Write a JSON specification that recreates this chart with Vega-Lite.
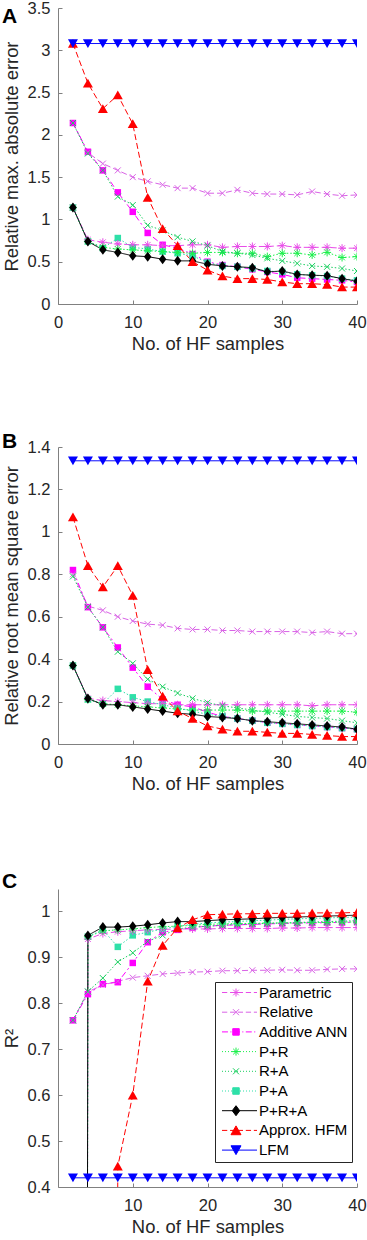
{
"$schema": "https://vega.github.io/schema/vega-lite/v6.json",
"padding": {"left": 2, "top": 0, "right": 0, "bottom": 0},
"spacing": 78,
"config": {
 "view": {"stroke": null},
 "font": "Liberation Sans",
 "axis": {"labelFont": "Liberation Sans", "titleFont": "Liberation Sans", "labelFontSize": 16.5, "titleFontSize": 18.4, "titleFontWeight": "normal", "labelColor": "#262626", "titleColor": "#262626", "domainColor": "#808080", "tickColor": "#808080", "tickSize": -4, "grid": false, "labelFlush": false, "labelOverlap": false},
 "axisX": {"labelPadding": 14, "titlePadding": 4},
 "axisY": {"labelPadding": 12, "titlePadding": 6},
 "title": {"font": "Liberation Sans", "fontSize": 21, "fontWeight": "bold", "anchor": "start", "frame": "bounds", "color": "#000000"}
},
"resolve": {"scale": {"color": "independent", "shape": "independent", "strokeDash": "independent", "stroke": "independent"}},
"data": {"values": [
{"p":"A","s":"Parametric","x":2,"y":1.14},{"p":"A","s":"Parametric","x":4,"y":0.76},{"p":"A","s":"Parametric","x":6,"y":0.73},{"p":"A","s":"Parametric","x":8,"y":0.71},{"p":"A","s":"Parametric","x":10,"y":0.70},{"p":"A","s":"Parametric","x":12,"y":0.70},{"p":"A","s":"Parametric","x":14,"y":0.69},{"p":"A","s":"Parametric","x":16,"y":0.69},{"p":"A","s":"Parametric","x":18,"y":0.70},{"p":"A","s":"Parametric","x":20,"y":0.70},{"p":"A","s":"Parametric","x":22,"y":0.67},{"p":"A","s":"Parametric","x":24,"y":0.68},{"p":"A","s":"Parametric","x":26,"y":0.68},{"p":"A","s":"Parametric","x":28,"y":0.68},{"p":"A","s":"Parametric","x":30,"y":0.69},{"p":"A","s":"Parametric","x":32,"y":0.67},{"p":"A","s":"Parametric","x":34,"y":0.67},{"p":"A","s":"Parametric","x":36,"y":0.67},{"p":"A","s":"Parametric","x":38,"y":0.66},{"p":"A","s":"Parametric","x":40,"y":0.66},
{"p":"A","s":"Relative","x":2,"y":2.14},{"p":"A","s":"Relative","x":4,"y":1.79},{"p":"A","s":"Relative","x":6,"y":1.66},{"p":"A","s":"Relative","x":8,"y":1.58},{"p":"A","s":"Relative","x":10,"y":1.50},{"p":"A","s":"Relative","x":12,"y":1.45},{"p":"A","s":"Relative","x":14,"y":1.41},{"p":"A","s":"Relative","x":16,"y":1.37},{"p":"A","s":"Relative","x":18,"y":1.37},{"p":"A","s":"Relative","x":20,"y":1.31},{"p":"A","s":"Relative","x":22,"y":1.31},{"p":"A","s":"Relative","x":24,"y":1.35},{"p":"A","s":"Relative","x":26,"y":1.31},{"p":"A","s":"Relative","x":28,"y":1.30},{"p":"A","s":"Relative","x":30,"y":1.30},{"p":"A","s":"Relative","x":32,"y":1.29},{"p":"A","s":"Relative","x":34,"y":1.33},{"p":"A","s":"Relative","x":36,"y":1.30},{"p":"A","s":"Relative","x":38,"y":1.28},{"p":"A","s":"Relative","x":40,"y":1.29},
{"p":"A","s":"Additive ANN","x":2,"y":2.14},{"p":"A","s":"Additive ANN","x":4,"y":1.80},{"p":"A","s":"Additive ANN","x":6,"y":1.58},{"p":"A","s":"Additive ANN","x":8,"y":1.32},{"p":"A","s":"Additive ANN","x":10,"y":1.09},{"p":"A","s":"Additive ANN","x":12,"y":0.84},{"p":"A","s":"Additive ANN","x":14,"y":0.70},{"p":"A","s":"Additive ANN","x":16,"y":0.66},{"p":"A","s":"Additive ANN","x":18,"y":0.59},{"p":"A","s":"Additive ANN","x":20,"y":0.50},{"p":"A","s":"Additive ANN","x":22,"y":0.46},{"p":"A","s":"Additive ANN","x":24,"y":0.44},{"p":"A","s":"Additive ANN","x":26,"y":0.41},{"p":"A","s":"Additive ANN","x":28,"y":0.38},{"p":"A","s":"Additive ANN","x":30,"y":0.35},{"p":"A","s":"Additive ANN","x":32,"y":0.31},{"p":"A","s":"Additive ANN","x":34,"y":0.30},{"p":"A","s":"Additive ANN","x":36,"y":0.29},{"p":"A","s":"Additive ANN","x":38,"y":0.28},{"p":"A","s":"Additive ANN","x":40,"y":0.26},
{"p":"A","s":"P+R","x":2,"y":1.14},{"p":"A","s":"P+R","x":4,"y":0.74},{"p":"A","s":"P+R","x":6,"y":0.67},{"p":"A","s":"P+R","x":8,"y":0.65},{"p":"A","s":"P+R","x":10,"y":0.64},{"p":"A","s":"P+R","x":12,"y":0.63},{"p":"A","s":"P+R","x":14,"y":0.62},{"p":"A","s":"P+R","x":16,"y":0.61},{"p":"A","s":"P+R","x":18,"y":0.60},{"p":"A","s":"P+R","x":20,"y":0.61},{"p":"A","s":"P+R","x":22,"y":0.61},{"p":"A","s":"P+R","x":24,"y":0.60},{"p":"A","s":"P+R","x":26,"y":0.60},{"p":"A","s":"P+R","x":28,"y":0.56},{"p":"A","s":"P+R","x":30,"y":0.60},{"p":"A","s":"P+R","x":32,"y":0.60},{"p":"A","s":"P+R","x":34,"y":0.58},{"p":"A","s":"P+R","x":36,"y":0.61},{"p":"A","s":"P+R","x":38,"y":0.55},{"p":"A","s":"P+R","x":40,"y":0.56},
{"p":"A","s":"R+A","x":2,"y":2.14},{"p":"A","s":"R+A","x":4,"y":1.78},{"p":"A","s":"R+A","x":6,"y":1.58},{"p":"A","s":"R+A","x":8,"y":1.27},{"p":"A","s":"R+A","x":10,"y":1.17},{"p":"A","s":"R+A","x":12,"y":0.93},{"p":"A","s":"R+A","x":14,"y":0.87},{"p":"A","s":"R+A","x":16,"y":0.79},{"p":"A","s":"R+A","x":18,"y":0.74},{"p":"A","s":"R+A","x":20,"y":0.69},{"p":"A","s":"R+A","x":22,"y":0.62},{"p":"A","s":"R+A","x":24,"y":0.60},{"p":"A","s":"R+A","x":26,"y":0.58},{"p":"A","s":"R+A","x":28,"y":0.54},{"p":"A","s":"R+A","x":30,"y":0.51},{"p":"A","s":"R+A","x":32,"y":0.48},{"p":"A","s":"R+A","x":34,"y":0.45},{"p":"A","s":"R+A","x":36,"y":0.44},{"p":"A","s":"R+A","x":38,"y":0.42},{"p":"A","s":"R+A","x":40,"y":0.39},
{"p":"A","s":"P+A","x":2,"y":1.14},{"p":"A","s":"P+A","x":4,"y":0.74},{"p":"A","s":"P+A","x":6,"y":0.66},{"p":"A","s":"P+A","x":8,"y":0.78},{"p":"A","s":"P+A","x":10,"y":0.67},{"p":"A","s":"P+A","x":12,"y":0.65},{"p":"A","s":"P+A","x":14,"y":0.62},{"p":"A","s":"P+A","x":16,"y":0.60},{"p":"A","s":"P+A","x":18,"y":0.57},{"p":"A","s":"P+A","x":20,"y":0.49},{"p":"A","s":"P+A","x":22,"y":0.45},{"p":"A","s":"P+A","x":24,"y":0.44},{"p":"A","s":"P+A","x":26,"y":0.42},{"p":"A","s":"P+A","x":28,"y":0.39},{"p":"A","s":"P+A","x":30,"y":0.38},{"p":"A","s":"P+A","x":32,"y":0.35},{"p":"A","s":"P+A","x":34,"y":0.34},{"p":"A","s":"P+A","x":36,"y":0.33},{"p":"A","s":"P+A","x":38,"y":0.30},{"p":"A","s":"P+A","x":40,"y":0.28},
{"p":"A","s":"P+R+A","x":2,"y":1.14},{"p":"A","s":"P+R+A","x":4,"y":0.74},{"p":"A","s":"P+R+A","x":6,"y":0.64},{"p":"A","s":"P+R+A","x":8,"y":0.61},{"p":"A","s":"P+R+A","x":10,"y":0.57},{"p":"A","s":"P+R+A","x":12,"y":0.56},{"p":"A","s":"P+R+A","x":14,"y":0.53},{"p":"A","s":"P+R+A","x":16,"y":0.51},{"p":"A","s":"P+R+A","x":18,"y":0.51},{"p":"A","s":"P+R+A","x":20,"y":0.47},{"p":"A","s":"P+R+A","x":22,"y":0.45},{"p":"A","s":"P+R+A","x":24,"y":0.44},{"p":"A","s":"P+R+A","x":26,"y":0.43},{"p":"A","s":"P+R+A","x":28,"y":0.38},{"p":"A","s":"P+R+A","x":30,"y":0.39},{"p":"A","s":"P+R+A","x":32,"y":0.35},{"p":"A","s":"P+R+A","x":34,"y":0.34},{"p":"A","s":"P+R+A","x":36,"y":0.335},{"p":"A","s":"P+R+A","x":38,"y":0.30},{"p":"A","s":"P+R+A","x":40,"y":0.27},
{"p":"A","s":"Approx. HFM","x":2,"y":3.08},{"p":"A","s":"Approx. HFM","x":4,"y":2.61},{"p":"A","s":"Approx. HFM","x":6,"y":2.31},{"p":"A","s":"Approx. HFM","x":8,"y":2.47},{"p":"A","s":"Approx. HFM","x":10,"y":2.13},{"p":"A","s":"Approx. HFM","x":12,"y":1.26},{"p":"A","s":"Approx. HFM","x":14,"y":0.89},{"p":"A","s":"Approx. HFM","x":16,"y":0.69},{"p":"A","s":"Approx. HFM","x":18,"y":0.50},{"p":"A","s":"Approx. HFM","x":20,"y":0.40},{"p":"A","s":"Approx. HFM","x":22,"y":0.33},{"p":"A","s":"Approx. HFM","x":24,"y":0.30},{"p":"A","s":"Approx. HFM","x":26,"y":0.30},{"p":"A","s":"Approx. HFM","x":28,"y":0.29},{"p":"A","s":"Approx. HFM","x":30,"y":0.26},{"p":"A","s":"Approx. HFM","x":32,"y":0.24},{"p":"A","s":"Approx. HFM","x":34,"y":0.24},{"p":"A","s":"Approx. HFM","x":36,"y":0.23},{"p":"A","s":"Approx. HFM","x":38,"y":0.20},{"p":"A","s":"Approx. HFM","x":40,"y":0.20},
{"p":"A","s":"LFM","x":2,"y":3.08},{"p":"A","s":"LFM","x":4,"y":3.08},{"p":"A","s":"LFM","x":6,"y":3.08},{"p":"A","s":"LFM","x":8,"y":3.08},{"p":"A","s":"LFM","x":10,"y":3.08},{"p":"A","s":"LFM","x":12,"y":3.08},{"p":"A","s":"LFM","x":14,"y":3.08},{"p":"A","s":"LFM","x":16,"y":3.08},{"p":"A","s":"LFM","x":18,"y":3.08},{"p":"A","s":"LFM","x":20,"y":3.08},{"p":"A","s":"LFM","x":22,"y":3.08},{"p":"A","s":"LFM","x":24,"y":3.08},{"p":"A","s":"LFM","x":26,"y":3.08},{"p":"A","s":"LFM","x":28,"y":3.08},{"p":"A","s":"LFM","x":30,"y":3.08},{"p":"A","s":"LFM","x":32,"y":3.08},{"p":"A","s":"LFM","x":34,"y":3.08},{"p":"A","s":"LFM","x":36,"y":3.08},{"p":"A","s":"LFM","x":38,"y":3.08},{"p":"A","s":"LFM","x":40,"y":3.08},
{"p":"B","s":"Parametric","x":2,"y":0.37},{"p":"B","s":"Parametric","x":4,"y":0.215},{"p":"B","s":"Parametric","x":6,"y":0.205},{"p":"B","s":"Parametric","x":8,"y":0.20},{"p":"B","s":"Parametric","x":10,"y":0.195},{"p":"B","s":"Parametric","x":12,"y":0.19},{"p":"B","s":"Parametric","x":14,"y":0.19},{"p":"B","s":"Parametric","x":16,"y":0.185},{"p":"B","s":"Parametric","x":18,"y":0.185},{"p":"B","s":"Parametric","x":20,"y":0.185},{"p":"B","s":"Parametric","x":22,"y":0.185},{"p":"B","s":"Parametric","x":24,"y":0.185},{"p":"B","s":"Parametric","x":26,"y":0.185},{"p":"B","s":"Parametric","x":28,"y":0.185},{"p":"B","s":"Parametric","x":30,"y":0.185},{"p":"B","s":"Parametric","x":32,"y":0.185},{"p":"B","s":"Parametric","x":34,"y":0.18},{"p":"B","s":"Parametric","x":36,"y":0.185},{"p":"B","s":"Parametric","x":38,"y":0.185},{"p":"B","s":"Parametric","x":40,"y":0.185},
{"p":"B","s":"Relative","x":2,"y":0.80},{"p":"B","s":"Relative","x":4,"y":0.65},{"p":"B","s":"Relative","x":6,"y":0.63},{"p":"B","s":"Relative","x":8,"y":0.60},{"p":"B","s":"Relative","x":10,"y":0.58},{"p":"B","s":"Relative","x":12,"y":0.565},{"p":"B","s":"Relative","x":14,"y":0.56},{"p":"B","s":"Relative","x":16,"y":0.545},{"p":"B","s":"Relative","x":18,"y":0.54},{"p":"B","s":"Relative","x":20,"y":0.54},{"p":"B","s":"Relative","x":22,"y":0.535},{"p":"B","s":"Relative","x":24,"y":0.535},{"p":"B","s":"Relative","x":26,"y":0.53},{"p":"B","s":"Relative","x":28,"y":0.53},{"p":"B","s":"Relative","x":30,"y":0.53},{"p":"B","s":"Relative","x":32,"y":0.53},{"p":"B","s":"Relative","x":34,"y":0.525},{"p":"B","s":"Relative","x":36,"y":0.53},{"p":"B","s":"Relative","x":38,"y":0.52},{"p":"B","s":"Relative","x":40,"y":0.52},
{"p":"B","s":"Additive ANN","x":2,"y":0.82},{"p":"B","s":"Additive ANN","x":4,"y":0.645},{"p":"B","s":"Additive ANN","x":6,"y":0.55},{"p":"B","s":"Additive ANN","x":8,"y":0.455},{"p":"B","s":"Additive ANN","x":10,"y":0.36},{"p":"B","s":"Additive ANN","x":12,"y":0.27},{"p":"B","s":"Additive ANN","x":14,"y":0.21},{"p":"B","s":"Additive ANN","x":16,"y":0.185},{"p":"B","s":"Additive ANN","x":18,"y":0.175},{"p":"B","s":"Additive ANN","x":20,"y":0.15},{"p":"B","s":"Additive ANN","x":22,"y":0.13},{"p":"B","s":"Additive ANN","x":24,"y":0.12},{"p":"B","s":"Additive ANN","x":26,"y":0.11},{"p":"B","s":"Additive ANN","x":28,"y":0.10},{"p":"B","s":"Additive ANN","x":30,"y":0.095},{"p":"B","s":"Additive ANN","x":32,"y":0.09},{"p":"B","s":"Additive ANN","x":34,"y":0.085},{"p":"B","s":"Additive ANN","x":36,"y":0.08},{"p":"B","s":"Additive ANN","x":38,"y":0.075},{"p":"B","s":"Additive ANN","x":40,"y":0.07},
{"p":"B","s":"P+R","x":2,"y":0.37},{"p":"B","s":"P+R","x":4,"y":0.21},{"p":"B","s":"P+R","x":6,"y":0.19},{"p":"B","s":"P+R","x":8,"y":0.185},{"p":"B","s":"P+R","x":10,"y":0.18},{"p":"B","s":"P+R","x":12,"y":0.175},{"p":"B","s":"P+R","x":14,"y":0.17},{"p":"B","s":"P+R","x":16,"y":0.165},{"p":"B","s":"P+R","x":18,"y":0.16},{"p":"B","s":"P+R","x":20,"y":0.16},{"p":"B","s":"P+R","x":22,"y":0.16},{"p":"B","s":"P+R","x":24,"y":0.16},{"p":"B","s":"P+R","x":26,"y":0.155},{"p":"B","s":"P+R","x":28,"y":0.155},{"p":"B","s":"P+R","x":30,"y":0.155},{"p":"B","s":"P+R","x":32,"y":0.155},{"p":"B","s":"P+R","x":34,"y":0.155},{"p":"B","s":"P+R","x":36,"y":0.155},{"p":"B","s":"P+R","x":38,"y":0.155},{"p":"B","s":"P+R","x":40,"y":0.15},
{"p":"B","s":"R+A","x":2,"y":0.79},{"p":"B","s":"R+A","x":4,"y":0.645},{"p":"B","s":"R+A","x":6,"y":0.55},{"p":"B","s":"R+A","x":8,"y":0.435},{"p":"B","s":"R+A","x":10,"y":0.38},{"p":"B","s":"R+A","x":12,"y":0.305},{"p":"B","s":"R+A","x":14,"y":0.27},{"p":"B","s":"R+A","x":16,"y":0.24},{"p":"B","s":"R+A","x":18,"y":0.215},{"p":"B","s":"R+A","x":20,"y":0.195},{"p":"B","s":"R+A","x":22,"y":0.18},{"p":"B","s":"R+A","x":24,"y":0.17},{"p":"B","s":"R+A","x":26,"y":0.16},{"p":"B","s":"R+A","x":28,"y":0.15},{"p":"B","s":"R+A","x":30,"y":0.14},{"p":"B","s":"R+A","x":32,"y":0.13},{"p":"B","s":"R+A","x":34,"y":0.125},{"p":"B","s":"R+A","x":36,"y":0.12},{"p":"B","s":"R+A","x":38,"y":0.11},{"p":"B","s":"R+A","x":40,"y":0.10},
{"p":"B","s":"P+A","x":2,"y":0.37},{"p":"B","s":"P+A","x":4,"y":0.21},{"p":"B","s":"P+A","x":6,"y":0.19},{"p":"B","s":"P+A","x":8,"y":0.26},{"p":"B","s":"P+A","x":10,"y":0.22},{"p":"B","s":"P+A","x":12,"y":0.20},{"p":"B","s":"P+A","x":14,"y":0.185},{"p":"B","s":"P+A","x":16,"y":0.17},{"p":"B","s":"P+A","x":18,"y":0.155},{"p":"B","s":"P+A","x":20,"y":0.14},{"p":"B","s":"P+A","x":22,"y":0.13},{"p":"B","s":"P+A","x":24,"y":0.12},{"p":"B","s":"P+A","x":26,"y":0.11},{"p":"B","s":"P+A","x":28,"y":0.10},{"p":"B","s":"P+A","x":30,"y":0.095},{"p":"B","s":"P+A","x":32,"y":0.09},{"p":"B","s":"P+A","x":34,"y":0.085},{"p":"B","s":"P+A","x":36,"y":0.08},{"p":"B","s":"P+A","x":38,"y":0.075},{"p":"B","s":"P+A","x":40,"y":0.07},
{"p":"B","s":"P+R+A","x":2,"y":0.37},{"p":"B","s":"P+R+A","x":4,"y":0.215},{"p":"B","s":"P+R+A","x":6,"y":0.185},{"p":"B","s":"P+R+A","x":8,"y":0.185},{"p":"B","s":"P+R+A","x":10,"y":0.175},{"p":"B","s":"P+R+A","x":12,"y":0.165},{"p":"B","s":"P+R+A","x":14,"y":0.155},{"p":"B","s":"P+R+A","x":16,"y":0.145},{"p":"B","s":"P+R+A","x":18,"y":0.14},{"p":"B","s":"P+R+A","x":20,"y":0.13},{"p":"B","s":"P+R+A","x":22,"y":0.125},{"p":"B","s":"P+R+A","x":24,"y":0.12},{"p":"B","s":"P+R+A","x":26,"y":0.11},{"p":"B","s":"P+R+A","x":28,"y":0.105},{"p":"B","s":"P+R+A","x":30,"y":0.10},{"p":"B","s":"P+R+A","x":32,"y":0.095},{"p":"B","s":"P+R+A","x":34,"y":0.09},{"p":"B","s":"P+R+A","x":36,"y":0.085},{"p":"B","s":"P+R+A","x":38,"y":0.08},{"p":"B","s":"P+R+A","x":40,"y":0.07},
{"p":"B","s":"Approx. HFM","x":2,"y":1.07},{"p":"B","s":"Approx. HFM","x":4,"y":0.84},{"p":"B","s":"Approx. HFM","x":6,"y":0.74},{"p":"B","s":"Approx. HFM","x":8,"y":0.84},{"p":"B","s":"Approx. HFM","x":10,"y":0.70},{"p":"B","s":"Approx. HFM","x":12,"y":0.35},{"p":"B","s":"Approx. HFM","x":14,"y":0.225},{"p":"B","s":"Approx. HFM","x":16,"y":0.155},{"p":"B","s":"Approx. HFM","x":18,"y":0.12},{"p":"B","s":"Approx. HFM","x":20,"y":0.085},{"p":"B","s":"Approx. HFM","x":22,"y":0.07},{"p":"B","s":"Approx. HFM","x":24,"y":0.06},{"p":"B","s":"Approx. HFM","x":26,"y":0.06},{"p":"B","s":"Approx. HFM","x":28,"y":0.055},{"p":"B","s":"Approx. HFM","x":30,"y":0.05},{"p":"B","s":"Approx. HFM","x":32,"y":0.05},{"p":"B","s":"Approx. HFM","x":34,"y":0.045},{"p":"B","s":"Approx. HFM","x":36,"y":0.04},{"p":"B","s":"Approx. HFM","x":38,"y":0.035},{"p":"B","s":"Approx. HFM","x":40,"y":0.035},
{"p":"B","s":"LFM","x":2,"y":1.335},{"p":"B","s":"LFM","x":4,"y":1.335},{"p":"B","s":"LFM","x":6,"y":1.335},{"p":"B","s":"LFM","x":8,"y":1.335},{"p":"B","s":"LFM","x":10,"y":1.335},{"p":"B","s":"LFM","x":12,"y":1.335},{"p":"B","s":"LFM","x":14,"y":1.335},{"p":"B","s":"LFM","x":16,"y":1.335},{"p":"B","s":"LFM","x":18,"y":1.335},{"p":"B","s":"LFM","x":20,"y":1.335},{"p":"B","s":"LFM","x":22,"y":1.335},{"p":"B","s":"LFM","x":24,"y":1.335},{"p":"B","s":"LFM","x":26,"y":1.335},{"p":"B","s":"LFM","x":28,"y":1.335},{"p":"B","s":"LFM","x":30,"y":1.335},{"p":"B","s":"LFM","x":32,"y":1.335},{"p":"B","s":"LFM","x":34,"y":1.335},{"p":"B","s":"LFM","x":36,"y":1.335},{"p":"B","s":"LFM","x":38,"y":1.335},{"p":"B","s":"LFM","x":40,"y":1.335},
{"p":"C","s":"Parametric","x":2,"y":-20},{"p":"C","s":"Parametric","x":4,"y":0.94},{"p":"C","s":"Parametric","x":6,"y":0.952},{"p":"C","s":"Parametric","x":8,"y":0.956},{"p":"C","s":"Parametric","x":10,"y":0.958},{"p":"C","s":"Parametric","x":12,"y":0.96},{"p":"C","s":"Parametric","x":14,"y":0.961},{"p":"C","s":"Parametric","x":16,"y":0.962},{"p":"C","s":"Parametric","x":18,"y":0.962},{"p":"C","s":"Parametric","x":20,"y":0.962},{"p":"C","s":"Parametric","x":22,"y":0.963},{"p":"C","s":"Parametric","x":24,"y":0.963},{"p":"C","s":"Parametric","x":26,"y":0.963},{"p":"C","s":"Parametric","x":28,"y":0.963},{"p":"C","s":"Parametric","x":30,"y":0.964},{"p":"C","s":"Parametric","x":32,"y":0.964},{"p":"C","s":"Parametric","x":34,"y":0.965},{"p":"C","s":"Parametric","x":36,"y":0.965},{"p":"C","s":"Parametric","x":38,"y":0.965},{"p":"C","s":"Parametric","x":40,"y":0.965},
{"p":"C","s":"Relative","x":2,"y":0.763},{"p":"C","s":"Relative","x":4,"y":0.825},{"p":"C","s":"Relative","x":6,"y":0.84},{"p":"C","s":"Relative","x":8,"y":0.848},{"p":"C","s":"Relative","x":10,"y":0.856},{"p":"C","s":"Relative","x":12,"y":0.86},{"p":"C","s":"Relative","x":14,"y":0.864},{"p":"C","s":"Relative","x":16,"y":0.866},{"p":"C","s":"Relative","x":18,"y":0.868},{"p":"C","s":"Relative","x":20,"y":0.869},{"p":"C","s":"Relative","x":22,"y":0.871},{"p":"C","s":"Relative","x":24,"y":0.871},{"p":"C","s":"Relative","x":26,"y":0.872},{"p":"C","s":"Relative","x":28,"y":0.872},{"p":"C","s":"Relative","x":30,"y":0.873},{"p":"C","s":"Relative","x":32,"y":0.872},{"p":"C","s":"Relative","x":34,"y":0.872},{"p":"C","s":"Relative","x":36,"y":0.874},{"p":"C","s":"Relative","x":38,"y":0.875},{"p":"C","s":"Relative","x":40,"y":0.875},
{"p":"C","s":"Additive ANN","x":2,"y":0.763},{"p":"C","s":"Additive ANN","x":4,"y":0.82},{"p":"C","s":"Additive ANN","x":6,"y":0.842},{"p":"C","s":"Additive ANN","x":8,"y":0.846},{"p":"C","s":"Additive ANN","x":10,"y":0.888},{"p":"C","s":"Additive ANN","x":12,"y":0.933},{"p":"C","s":"Additive ANN","x":14,"y":0.955},{"p":"C","s":"Additive ANN","x":16,"y":0.96},{"p":"C","s":"Additive ANN","x":18,"y":0.965},{"p":"C","s":"Additive ANN","x":20,"y":0.968},{"p":"C","s":"Additive ANN","x":22,"y":0.97},{"p":"C","s":"Additive ANN","x":24,"y":0.971},{"p":"C","s":"Additive ANN","x":26,"y":0.972},{"p":"C","s":"Additive ANN","x":28,"y":0.973},{"p":"C","s":"Additive ANN","x":30,"y":0.974},{"p":"C","s":"Additive ANN","x":32,"y":0.975},{"p":"C","s":"Additive ANN","x":34,"y":0.975},{"p":"C","s":"Additive ANN","x":36,"y":0.976},{"p":"C","s":"Additive ANN","x":38,"y":0.976},{"p":"C","s":"Additive ANN","x":40,"y":0.977},
{"p":"C","s":"P+R","x":2,"y":-20},{"p":"C","s":"P+R","x":4,"y":0.945},{"p":"C","s":"P+R","x":6,"y":0.958},{"p":"C","s":"P+R","x":8,"y":0.96},{"p":"C","s":"P+R","x":10,"y":0.962},{"p":"C","s":"P+R","x":12,"y":0.965},{"p":"C","s":"P+R","x":14,"y":0.967},{"p":"C","s":"P+R","x":16,"y":0.968},{"p":"C","s":"P+R","x":18,"y":0.97},{"p":"C","s":"P+R","x":20,"y":0.972},{"p":"C","s":"P+R","x":22,"y":0.973},{"p":"C","s":"P+R","x":24,"y":0.974},{"p":"C","s":"P+R","x":26,"y":0.974},{"p":"C","s":"P+R","x":28,"y":0.975},{"p":"C","s":"P+R","x":30,"y":0.975},{"p":"C","s":"P+R","x":32,"y":0.975},{"p":"C","s":"P+R","x":34,"y":0.976},{"p":"C","s":"P+R","x":36,"y":0.976},{"p":"C","s":"P+R","x":38,"y":0.977},{"p":"C","s":"P+R","x":40,"y":0.977},
{"p":"C","s":"R+A","x":2,"y":0.763},{"p":"C","s":"R+A","x":4,"y":0.826},{"p":"C","s":"R+A","x":6,"y":0.855},{"p":"C","s":"R+A","x":8,"y":0.89},{"p":"C","s":"R+A","x":10,"y":0.91},{"p":"C","s":"R+A","x":12,"y":0.935},{"p":"C","s":"R+A","x":14,"y":0.948},{"p":"C","s":"R+A","x":16,"y":0.962},{"p":"C","s":"R+A","x":18,"y":0.966},{"p":"C","s":"R+A","x":20,"y":0.968},{"p":"C","s":"R+A","x":22,"y":0.97},{"p":"C","s":"R+A","x":24,"y":0.972},{"p":"C","s":"R+A","x":26,"y":0.973},{"p":"C","s":"R+A","x":28,"y":0.974},{"p":"C","s":"R+A","x":30,"y":0.975},{"p":"C","s":"R+A","x":32,"y":0.976},{"p":"C","s":"R+A","x":34,"y":0.977},{"p":"C","s":"R+A","x":36,"y":0.978},{"p":"C","s":"R+A","x":38,"y":0.979},{"p":"C","s":"R+A","x":40,"y":0.98},
{"p":"C","s":"P+A","x":2,"y":-20},{"p":"C","s":"P+A","x":4,"y":0.945},{"p":"C","s":"P+A","x":6,"y":0.96},{"p":"C","s":"P+A","x":8,"y":0.923},{"p":"C","s":"P+A","x":10,"y":0.948},{"p":"C","s":"P+A","x":12,"y":0.955},{"p":"C","s":"P+A","x":14,"y":0.962},{"p":"C","s":"P+A","x":16,"y":0.968},{"p":"C","s":"P+A","x":18,"y":0.972},{"p":"C","s":"P+A","x":20,"y":0.975},{"p":"C","s":"P+A","x":22,"y":0.977},{"p":"C","s":"P+A","x":24,"y":0.978},{"p":"C","s":"P+A","x":26,"y":0.98},{"p":"C","s":"P+A","x":28,"y":0.981},{"p":"C","s":"P+A","x":30,"y":0.983},{"p":"C","s":"P+A","x":32,"y":0.984},{"p":"C","s":"P+A","x":34,"y":0.985},{"p":"C","s":"P+A","x":36,"y":0.986},{"p":"C","s":"P+A","x":38,"y":0.987},{"p":"C","s":"P+A","x":40,"y":0.988},
{"p":"C","s":"P+R+A","x":2,"y":-20},{"p":"C","s":"P+R+A","x":4,"y":0.948},{"p":"C","s":"P+R+A","x":6,"y":0.966},{"p":"C","s":"P+R+A","x":8,"y":0.966},{"p":"C","s":"P+R+A","x":10,"y":0.968},{"p":"C","s":"P+R+A","x":12,"y":0.971},{"p":"C","s":"P+R+A","x":14,"y":0.975},{"p":"C","s":"P+R+A","x":16,"y":0.978},{"p":"C","s":"P+R+A","x":18,"y":0.978},{"p":"C","s":"P+R+A","x":20,"y":0.98},{"p":"C","s":"P+R+A","x":22,"y":0.982},{"p":"C","s":"P+R+A","x":24,"y":0.983},{"p":"C","s":"P+R+A","x":26,"y":0.984},{"p":"C","s":"P+R+A","x":28,"y":0.986},{"p":"C","s":"P+R+A","x":30,"y":0.987},{"p":"C","s":"P+R+A","x":32,"y":0.988},{"p":"C","s":"P+R+A","x":34,"y":0.989},{"p":"C","s":"P+R+A","x":36,"y":0.99},{"p":"C","s":"P+R+A","x":38,"y":0.991},{"p":"C","s":"P+R+A","x":40,"y":0.992},
{"p":"C","s":"Approx. HFM","x":2,"y":-40},{"p":"C","s":"Approx. HFM","x":4,"y":-30},{"p":"C","s":"Approx. HFM","x":6,"y":-10},{"p":"C","s":"Approx. HFM","x":8,"y":0.445},{"p":"C","s":"Approx. HFM","x":10,"y":0.60},{"p":"C","s":"Approx. HFM","x":12,"y":0.848},{"p":"C","s":"Approx. HFM","x":14,"y":0.926},{"p":"C","s":"Approx. HFM","x":16,"y":0.964},{"p":"C","s":"Approx. HFM","x":18,"y":0.982},{"p":"C","s":"Approx. HFM","x":20,"y":0.993},{"p":"C","s":"Approx. HFM","x":22,"y":0.994},{"p":"C","s":"Approx. HFM","x":24,"y":0.995},{"p":"C","s":"Approx. HFM","x":26,"y":0.995},{"p":"C","s":"Approx. HFM","x":28,"y":0.996},{"p":"C","s":"Approx. HFM","x":30,"y":0.996},{"p":"C","s":"Approx. HFM","x":32,"y":0.996},{"p":"C","s":"Approx. HFM","x":34,"y":0.997},{"p":"C","s":"Approx. HFM","x":36,"y":0.997},{"p":"C","s":"Approx. HFM","x":38,"y":0.997},{"p":"C","s":"Approx. HFM","x":40,"y":0.998},
{"p":"C","s":"LFM","x":2,"y":0.42},{"p":"C","s":"LFM","x":4,"y":0.42},{"p":"C","s":"LFM","x":6,"y":0.42},{"p":"C","s":"LFM","x":8,"y":0.42},{"p":"C","s":"LFM","x":10,"y":0.42},{"p":"C","s":"LFM","x":12,"y":0.42},{"p":"C","s":"LFM","x":14,"y":0.42},{"p":"C","s":"LFM","x":16,"y":0.42},{"p":"C","s":"LFM","x":18,"y":0.42},{"p":"C","s":"LFM","x":20,"y":0.42},{"p":"C","s":"LFM","x":22,"y":0.42},{"p":"C","s":"LFM","x":24,"y":0.42},{"p":"C","s":"LFM","x":26,"y":0.42},{"p":"C","s":"LFM","x":28,"y":0.42},{"p":"C","s":"LFM","x":30,"y":0.42},{"p":"C","s":"LFM","x":32,"y":0.42},{"p":"C","s":"LFM","x":34,"y":0.42},{"p":"C","s":"LFM","x":36,"y":0.42},{"p":"C","s":"LFM","x":38,"y":0.42},{"p":"C","s":"LFM","x":40,"y":0.42}
]},
"vconcat": [
{
 "transform": [{"filter": "datum.p === 'A'"}],
 "width": 299, "height": 296,
 "title": {"text": "A", "offset": -27},
 "encoding": {
  "x": {"field": "x", "type": "quantitative", "scale": {"domain": [0, 40], "nice": false}, "axis": {"values": [0, 10, 20, 30, 40], "title": "No. of HF samples"}},
  "y": {"field": "y", "type": "quantitative", "scale": {"domain": [0, 3.5], "nice": false}, "axis": {"values": [0, 0.5, 1, 1.5, 2, 2.5, 3, 3.5], "format": "~g", "title": "Relative max. absolute error"}},
  "color": {"field": "s", "type": "nominal", "legend": null, "scale": {"domain": ["Parametric","Relative","Additive ANN","P+R","R+A","P+A","P+R+A","Approx. HFM","LFM"], "range": ["#E84CE8","#D963E6","#FF00FF","#1AF04A","#19CF5F","#2EE0A8","#000000","#FF0000","#0000FF"]}}
 },
 "layer": [
  {"mark": {"type": "line", "strokeWidth": 1, "clip": true}, "encoding": {"strokeDash": {"field": "s", "type": "nominal", "legend": null, "scale": {"domain": ["Parametric","Relative","Additive ANN","P+R","R+A","P+A","P+R+A","Approx. HFM","LFM"], "range": [[6,3],[6,3],[6,3,2,3],[1.5,2],[1.5,2],[1.5,2],[1,0],[6,3],[1,0]]}}}},
  {"transform": [{"filter": "indexof(['Additive ANN','P+A'], datum.s) >= 0"}], "mark": {"type": "point", "filled": true, "opacity": 1, "size": 100, "clip": true}, "encoding": {"shape": {"field": "s", "type": "nominal", "legend": null, "scale": {"domain": ["Parametric","Relative","Additive ANN","P+R","R+A","P+A","P+R+A","Approx. HFM","LFM"], "range": ["M-0.8,0L0.8,0M0,-0.8L0,0.8M-0.57,-0.57L0.57,0.57M-0.57,0.57L0.57,-0.57","M-0.6,-0.6L0.6,0.6M-0.6,0.6L0.6,-0.6","M-0.65,-0.65L0.65,-0.65L0.65,0.65L-0.65,0.65Z","M-0.8,0L0.8,0M0,-0.8L0,0.8M-0.57,-0.57L0.57,0.57M-0.57,0.57L0.57,-0.57","M-0.6,-0.6L0.6,0.6M-0.6,0.6L0.6,-0.6","M-0.65,-0.65L0.65,-0.65L0.65,0.65L-0.65,0.65Z","M0,-1L0.75,0L0,1L-0.75,0Z","M0,-0.9L1,0.85L-1,0.85Z","M0,0.9L1,-0.85L-1,-0.85Z"]}}}},
  {"transform": [{"filter": "indexof(['Parametric','Relative','P+R','R+A'], datum.s) >= 0"}], "mark": {"type": "point", "filled": false, "opacity": 1, "size": 100, "strokeWidth": 1, "clip": true}, "encoding": {"shape": {"field": "s", "type": "nominal", "legend": null, "scale": {"domain": ["Parametric","Relative","Additive ANN","P+R","R+A","P+A","P+R+A","Approx. HFM","LFM"], "range": ["M-0.8,0L0.8,0M0,-0.8L0,0.8M-0.57,-0.57L0.57,0.57M-0.57,0.57L0.57,-0.57","M-0.6,-0.6L0.6,0.6M-0.6,0.6L0.6,-0.6","M-0.65,-0.65L0.65,-0.65L0.65,0.65L-0.65,0.65Z","M-0.8,0L0.8,0M0,-0.8L0,0.8M-0.57,-0.57L0.57,0.57M-0.57,0.57L0.57,-0.57","M-0.6,-0.6L0.6,0.6M-0.6,0.6L0.6,-0.6","M-0.65,-0.65L0.65,-0.65L0.65,0.65L-0.65,0.65Z","M0,-1L0.75,0L0,1L-0.75,0Z","M0,-0.9L1,0.85L-1,0.85Z","M0,0.9L1,-0.85L-1,-0.85Z"]}}}},
  {"transform": [{"filter": "indexof(['P+R+A','Approx. HFM','LFM'], datum.s) >= 0"}], "mark": {"type": "point", "filled": true, "opacity": 1, "size": 100, "clip": true}, "encoding": {"shape": {"field": "s", "type": "nominal", "legend": null, "scale": {"domain": ["Parametric","Relative","Additive ANN","P+R","R+A","P+A","P+R+A","Approx. HFM","LFM"], "range": ["M-0.8,0L0.8,0M0,-0.8L0,0.8M-0.57,-0.57L0.57,0.57M-0.57,0.57L0.57,-0.57","M-0.6,-0.6L0.6,0.6M-0.6,0.6L0.6,-0.6","M-0.65,-0.65L0.65,-0.65L0.65,0.65L-0.65,0.65Z","M-0.8,0L0.8,0M0,-0.8L0,0.8M-0.57,-0.57L0.57,0.57M-0.57,0.57L0.57,-0.57","M-0.6,-0.6L0.6,0.6M-0.6,0.6L0.6,-0.6","M-0.65,-0.65L0.65,-0.65L0.65,0.65L-0.65,0.65Z","M0,-1L0.75,0L0,1L-0.75,0Z","M0,-0.9L1,0.85L-1,0.85Z","M0,0.9L1,-0.85L-1,-0.85Z"]}}}}
 ]
},
{
 "transform": [{"filter": "datum.p === 'B'"}],
 "width": 299, "height": 297,
 "title": {"text": "B", "offset": -13},
 "encoding": {
  "x": {"field": "x", "type": "quantitative", "scale": {"domain": [0, 40], "nice": false}, "axis": {"values": [0, 10, 20, 30, 40], "title": "No. of HF samples"}},
  "y": {"field": "y", "type": "quantitative", "scale": {"domain": [0, 1.4], "nice": false}, "axis": {"values": [0, 0.2, 0.4, 0.6, 0.8, 1, 1.2, 1.4], "format": "~g", "title": "Relative root mean square error"}},
  "color": {"field": "s", "type": "nominal", "legend": null, "scale": {"domain": ["Parametric","Relative","Additive ANN","P+R","R+A","P+A","P+R+A","Approx. HFM","LFM"], "range": ["#E84CE8","#D963E6","#FF00FF","#1AF04A","#19CF5F","#2EE0A8","#000000","#FF0000","#0000FF"]}}
 },
 "layer": [
  {"mark": {"type": "line", "strokeWidth": 1, "clip": true}, "encoding": {"strokeDash": {"field": "s", "type": "nominal", "legend": null, "scale": {"domain": ["Parametric","Relative","Additive ANN","P+R","R+A","P+A","P+R+A","Approx. HFM","LFM"], "range": [[6,3],[6,3],[6,3,2,3],[1.5,2],[1.5,2],[1.5,2],[1,0],[6,3],[1,0]]}}}},
  {"transform": [{"filter": "indexof(['Additive ANN','P+A'], datum.s) >= 0"}], "mark": {"type": "point", "filled": true, "opacity": 1, "size": 100, "clip": true}, "encoding": {"shape": {"field": "s", "type": "nominal", "legend": null, "scale": {"domain": ["Parametric","Relative","Additive ANN","P+R","R+A","P+A","P+R+A","Approx. HFM","LFM"], "range": ["M-0.8,0L0.8,0M0,-0.8L0,0.8M-0.57,-0.57L0.57,0.57M-0.57,0.57L0.57,-0.57","M-0.6,-0.6L0.6,0.6M-0.6,0.6L0.6,-0.6","M-0.65,-0.65L0.65,-0.65L0.65,0.65L-0.65,0.65Z","M-0.8,0L0.8,0M0,-0.8L0,0.8M-0.57,-0.57L0.57,0.57M-0.57,0.57L0.57,-0.57","M-0.6,-0.6L0.6,0.6M-0.6,0.6L0.6,-0.6","M-0.65,-0.65L0.65,-0.65L0.65,0.65L-0.65,0.65Z","M0,-1L0.75,0L0,1L-0.75,0Z","M0,-0.9L1,0.85L-1,0.85Z","M0,0.9L1,-0.85L-1,-0.85Z"]}}}},
  {"transform": [{"filter": "indexof(['Parametric','Relative','P+R','R+A'], datum.s) >= 0"}], "mark": {"type": "point", "filled": false, "opacity": 1, "size": 100, "strokeWidth": 1, "clip": true}, "encoding": {"shape": {"field": "s", "type": "nominal", "legend": null, "scale": {"domain": ["Parametric","Relative","Additive ANN","P+R","R+A","P+A","P+R+A","Approx. HFM","LFM"], "range": ["M-0.8,0L0.8,0M0,-0.8L0,0.8M-0.57,-0.57L0.57,0.57M-0.57,0.57L0.57,-0.57","M-0.6,-0.6L0.6,0.6M-0.6,0.6L0.6,-0.6","M-0.65,-0.65L0.65,-0.65L0.65,0.65L-0.65,0.65Z","M-0.8,0L0.8,0M0,-0.8L0,0.8M-0.57,-0.57L0.57,0.57M-0.57,0.57L0.57,-0.57","M-0.6,-0.6L0.6,0.6M-0.6,0.6L0.6,-0.6","M-0.65,-0.65L0.65,-0.65L0.65,0.65L-0.65,0.65Z","M0,-1L0.75,0L0,1L-0.75,0Z","M0,-0.9L1,0.85L-1,0.85Z","M0,0.9L1,-0.85L-1,-0.85Z"]}}}},
  {"transform": [{"filter": "indexof(['P+R+A','Approx. HFM','LFM'], datum.s) >= 0"}], "mark": {"type": "point", "filled": true, "opacity": 1, "size": 100, "clip": true}, "encoding": {"shape": {"field": "s", "type": "nominal", "legend": null, "scale": {"domain": ["Parametric","Relative","Additive ANN","P+R","R+A","P+A","P+R+A","Approx. HFM","LFM"], "range": ["M-0.8,0L0.8,0M0,-0.8L0,0.8M-0.57,-0.57L0.57,0.57M-0.57,0.57L0.57,-0.57","M-0.6,-0.6L0.6,0.6M-0.6,0.6L0.6,-0.6","M-0.65,-0.65L0.65,-0.65L0.65,0.65L-0.65,0.65Z","M-0.8,0L0.8,0M0,-0.8L0,0.8M-0.57,-0.57L0.57,0.57M-0.57,0.57L0.57,-0.57","M-0.6,-0.6L0.6,0.6M-0.6,0.6L0.6,-0.6","M-0.65,-0.65L0.65,-0.65L0.65,0.65L-0.65,0.65Z","M0,-1L0.75,0L0,1L-0.75,0Z","M0,-0.9L1,0.85L-1,0.85Z","M0,0.9L1,-0.85L-1,-0.85Z"]}}}}
 ]
},
{
 "transform": [{"filter": "datum.p === 'C'"}],
 "width": 299, "height": 298,
 "title": {"text": "C", "offset": -3},
 "resolve": {"scale": {"color": "independent", "shape": "independent", "stroke": "independent"}, "legend": {"color": "independent", "shape": "independent", "stroke": "independent"}},
 "encoding": {
  "x": {"field": "x", "type": "quantitative", "scale": {"domain": [0, 40], "nice": false}, "axis": {"values": [10, 20, 30, 40], "title": "No. of HF samples"}},
  "y": {"field": "y", "type": "quantitative", "scale": {"domain": [0.4, 1.049], "nice": false}, "axis": {"values": [0.4, 0.5, 0.6, 0.7, 0.8, 0.9, 1], "format": "~g", "title": "R²"}}
 },
 "layer": [
  {"mark": {"type": "line", "strokeWidth": 1, "clip": true}, "encoding": {
   "color": {"field": "s", "type": "nominal", "legend": null, "scale": {"domain": ["Parametric","Relative","Additive ANN","P+R","R+A","P+A","P+R+A","Approx. HFM","LFM"], "range": ["#E84CE8","#D963E6","#FF00FF","#1AF04A","#19CF5F","#2EE0A8","#000000","#FF0000","#0000FF"]}},
   "strokeDash": {"field": "s", "type": "nominal", "legend": null, "scale": {"domain": ["Parametric","Relative","Additive ANN","P+R","R+A","P+A","P+R+A","Approx. HFM","LFM"], "range": [[6,3],[6,3],[6,3,2,3],[1.5,2],[1.5,2],[1.5,2],[1,0],[6,3],[1,0]]}}}},
  {"transform": [{"filter": "indexof(['Additive ANN','P+A'], datum.s) >= 0"}], "mark": {"type": "point", "filled": true, "opacity": 1, "size": 100, "clip": true, "shape": "M-0.65,-0.65L0.65,-0.65L0.65,0.65L-0.65,0.65Z"}, "encoding": {
   "color": {"field": "s", "type": "nominal", "legend": null, "scale": {"domain": ["Parametric","Relative","Additive ANN","P+R","R+A","P+A","P+R+A","Approx. HFM","LFM"], "range": ["#E84CE8","#D963E6","#FF00FF","#1AF04A","#19CF5F","#2EE0A8","#000000","#FF0000","#0000FF"]}}}},
  {"transform": [{"filter": "indexof(['Parametric','P+R'], datum.s) >= 0"}], "mark": {"type": "point", "filled": false, "opacity": 1, "size": 100, "strokeWidth": 1, "clip": true, "shape": "M-0.8,0L0.8,0M0,-0.8L0,0.8M-0.57,-0.57L0.57,0.57M-0.57,0.57L0.57,-0.57"}, "encoding": {
   "color": {"field": "s", "type": "nominal", "legend": null, "scale": {"domain": ["Parametric","Relative","Additive ANN","P+R","R+A","P+A","P+R+A","Approx. HFM","LFM"], "range": ["#E84CE8","#D963E6","#FF00FF","#1AF04A","#19CF5F","#2EE0A8","#000000","#FF0000","#0000FF"]}}}},
  {"transform": [{"filter": "indexof(['Relative','R+A'], datum.s) >= 0"}], "mark": {"type": "point", "filled": false, "opacity": 1, "size": 100, "strokeWidth": 1, "clip": true, "shape": "M-0.6,-0.6L0.6,0.6M-0.6,0.6L0.6,-0.6"}, "encoding": {
   "color": {"field": "s", "type": "nominal", "legend": null, "scale": {"domain": ["Parametric","Relative","Additive ANN","P+R","R+A","P+A","P+R+A","Approx. HFM","LFM"], "range": ["#E84CE8","#D963E6","#FF00FF","#1AF04A","#19CF5F","#2EE0A8","#000000","#FF0000","#0000FF"]}}}},
  {"transform": [{"filter": "datum.s === 'P+R+A'"}], "mark": {"type": "point", "filled": true, "opacity": 1, "size": 100, "clip": true, "shape": "M0,-1L0.75,0L0,1L-0.75,0Z"}, "encoding": {
   "color": {"field": "s", "type": "nominal", "legend": null, "scale": {"domain": ["Parametric","Relative","Additive ANN","P+R","R+A","P+A","P+R+A","Approx. HFM","LFM"], "range": ["#E84CE8","#D963E6","#FF00FF","#1AF04A","#19CF5F","#2EE0A8","#000000","#FF0000","#0000FF"]}}}},
  {"transform": [{"filter": "datum.s === 'Approx. HFM'"}], "mark": {"type": "point", "filled": true, "opacity": 1, "size": 100, "clip": true, "shape": "M0,-0.9L1,0.85L-1,0.85Z"}, "encoding": {
   "color": {"field": "s", "type": "nominal", "legend": null, "scale": {"domain": ["Parametric","Relative","Additive ANN","P+R","R+A","P+A","P+R+A","Approx. HFM","LFM"], "range": ["#E84CE8","#D963E6","#FF00FF","#1AF04A","#19CF5F","#2EE0A8","#000000","#FF0000","#0000FF"]}}}},
  {"transform": [{"filter": "datum.s === 'LFM'"}], "mark": {"type": "point", "filled": true, "opacity": 1, "size": 100, "clip": true, "shape": "M0,0.9L1,-0.85L-1,-0.85Z"}, "encoding": {
   "color": {"field": "s", "type": "nominal", "legend": null, "scale": {"domain": ["Parametric","Relative","Additive ANN","P+R","R+A","P+A","P+R+A","Approx. HFM","LFM"], "range": ["#E84CE8","#D963E6","#FF00FF","#1AF04A","#19CF5F","#2EE0A8","#000000","#FF0000","#0000FF"]}}}},
  {"transform": [{"filter": "datum.y < 0"}], "mark": {"type": "point", "filled": true, "opacity": 1, "size": 49, "strokeWidth": 1, "clip": true}, "encoding": {
   "color": {"field": "s", "type": "nominal", "scale": {"domain": ["Parametric","Relative","Additive ANN","P+R","R+A","P+A","P+R+A","Approx. HFM","LFM"], "range": ["#E84CE8","#D963E6","#FF00FF","#1AF04A","#19CF5F","#2EE0A8","#000000","#FF0000","#0000FF"]},
    "legend": {"orient": "none", "legendX": 157, "legendY": 93, "title": null, "labelFont": "Liberation Sans", "labelFontSize": 15, "labelColor": "#000000", "strokeColor": "#262626", "fillColor": "#ffffff", "padding": 3, "symbolSize": 49, "labelOffset": 26, "rowPadding": 3.7, "symbolStrokeWidth": 1}},
   "stroke": {"field": "s", "type": "nominal", "scale": {"domain": ["Parametric","Relative","Additive ANN","P+R","R+A","P+A","P+R+A","Approx. HFM","LFM"], "range": ["#E84CE8","#D963E6","#FF00FF","#1AF04A","#19CF5F","#2EE0A8","#000000","#FF0000","#0000FF"]},
    "legend": {"orient": "none", "legendX": 157, "legendY": 93, "title": null, "labelFont": "Liberation Sans", "labelFontSize": 15, "labelColor": "#000000", "strokeColor": "#262626", "fillColor": "#ffffff", "padding": 3, "symbolSize": 49, "labelOffset": 26, "rowPadding": 3.7, "symbolStrokeWidth": 1}},
   "shape": {"field": "s", "type": "nominal", "scale": {"domain": ["Parametric","Relative","Additive ANN","P+R","R+A","P+A","P+R+A","Approx. HFM","LFM"], "range": [
     "M-1,0L0.5,0M1.3,0L2.7,0M3.5,0L5,0M5.8,0L7.3,0M8.1,0L9,0M1.86,0L4.14,0M3,-1.14L3,1.14M2.2,-0.8L3.8,0.8M2.2,0.8L3.8,-0.8",
     "M-1,0L0.5,0M1.3,0L2.7,0M3.5,0L5,0M5.8,0L7.3,0M8.1,0L9,0M2.14,-0.86L3.86,0.86M2.14,0.86L3.86,-0.86",
     "M-1,0L0.7,0M1.4,0L1.7,0M2.4,0L4.1,0M4.8,0L5.1,0M5.8,0L7.5,0M8.2,0L8.5,0M2.07,-0.93L3.93,-0.93L3.93,0.93L2.07,0.93Z",
     "M-1,0L-0.71,0M-0.14,0L0.14,0M0.71,0L1,0M1.57,0L1.86,0M2.43,0L2.71,0M3.29,0L3.57,0M4.14,0L4.43,0M5,0L5.29,0M5.86,0L6.14,0M6.71,0L7,0M7.57,0L7.86,0M8.43,0L8.71,0M1.86,0L4.14,0M3,-1.14L3,1.14M2.2,-0.8L3.8,0.8M2.2,0.8L3.8,-0.8",
     "M-1,0L-0.71,0M-0.14,0L0.14,0M0.71,0L1,0M1.57,0L1.86,0M2.43,0L2.71,0M3.29,0L3.57,0M4.14,0L4.43,0M5,0L5.29,0M5.86,0L6.14,0M6.71,0L7,0M7.57,0L7.86,0M8.43,0L8.71,0M2.14,-0.86L3.86,0.86M2.14,0.86L3.86,-0.86",
     "M-1,0L-0.71,0M-0.14,0L0.14,0M0.71,0L1,0M1.57,0L1.86,0M2.43,0L2.71,0M3.29,0L3.57,0M4.14,0L4.43,0M5,0L5.29,0M5.86,0L6.14,0M6.71,0L7,0M7.57,0L7.86,0M8.43,0L8.71,0M2.07,-0.93L3.93,-0.93L3.93,0.93L2.07,0.93Z",
     "M-1,0L9,0M3,-1.43L4.07,0L3,1.43L1.93,0Z",
     "M-1,0L0.5,0M1.3,0L2.7,0M3.5,0L5,0M5.8,0L7.3,0M8.1,0L9,0M3,-1.29L4.43,1.23L1.57,1.23Z",
     "M-1,0L9,0M3,1.29L4.43,-1.23L1.57,-1.23Z"]},
    "legend": {"orient": "none", "legendX": 157, "legendY": 93, "title": null, "labelFont": "Liberation Sans", "labelFontSize": 15, "labelColor": "#000000", "strokeColor": "#262626", "fillColor": "#ffffff", "padding": 3, "symbolSize": 49, "labelOffset": 26, "rowPadding": 3.7, "symbolStrokeWidth": 1}}
  }}
 ]
}
]
}
